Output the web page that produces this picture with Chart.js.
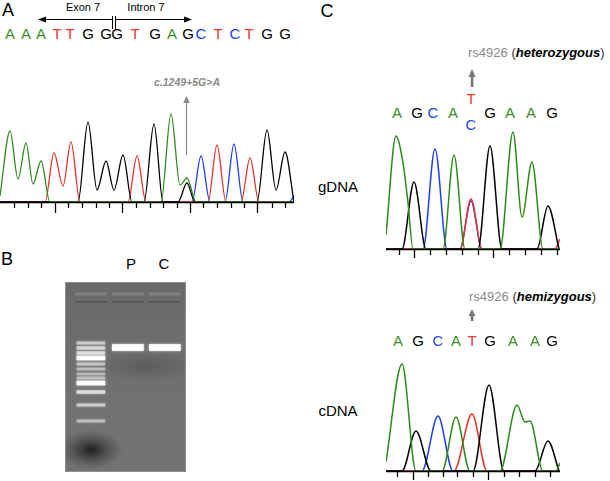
<!DOCTYPE html>
<html>
<head>
<meta charset="utf-8">
<script src="https://cdn.jsdelivr.net/npm/chart.js@4"></script>
<style>
body { margin: 0; background: #fff; font-family: "Liberation Sans", Arial, sans-serif; }
#fig { position: relative; width: 610px; height: 481px; overflow: hidden; background: #fff; }
#fig canvas, #fig svg, .t { position: absolute; }
.t { transform: translate(-50%, -50%); white-space: nowrap; line-height: 1; }
.l { transform: translate(0, -50%); }
.panel { font-size: 18px; }
.small { font-size: 11px; }
.seqA { font-size: 15px; }
.seqC { font-size: 15px; }
.lab { font-size: 15px; }
.mut { font-size: 10.5px; font-weight: bold; font-style: italic; color: #8a8a8a; }
.rs { font-size: 13px; color: #8a8a8a; }
.rs b { font-style: italic; color: #000; }
.rs span { color: #333; }
</style>
</head>
<body>
<div id="fig">
  <div class="t panel" style="left:8px;top:10px">A</div>
  <div class="t panel" style="left:7px;top:259px">B</div>
  <div class="t panel" style="left:327px;top:11px">C</div>

  <div class="t small" style="left:83px;top:7px">Exon 7</div>
  <div class="t small" style="left:146px;top:7px">Intron 7</div>
  <div class="t mut" style="left:187px;top:82px">c.1249+5G&gt;A</div>

  <div class="t lab" style="left:131px;top:263px">P</div>
  <div class="t lab" style="left:164px;top:263px">C</div>

  <div class="t l rs" style="left:468px;top:52px">rs4926 <span>(</span><b>heterozygous</b><span>)</span></div>
  <div class="t l rs" style="left:469px;top:296px">rs4926 <span>(</span><b>hemizygous</b><span>)</span></div>
  <div class="t lab" style="left:338px;top:186px">gDNA</div>
  <div class="t lab" style="left:338px;top:410px">cDNA</div>

  <svg width="610" height="481" style="left:0;top:0">
    <g stroke="#000" stroke-width="1" fill="none">
      <line x1="112" y1="19.5" x2="44" y2="19.5"/>
      <line x1="115" y1="19.5" x2="186" y2="19.5"/>
      <line x1="112.5" y1="16" x2="112.5" y2="29"/>
      <line x1="115.5" y1="16" x2="115.5" y2="29"/>
    </g>
    <polygon points="38,19.5 46,16.5 46,22.5" fill="#000"/>
    <polygon points="192,19.5 184,16.5 184,22.5" fill="#000"/>
    <line x1="186.5" y1="155" x2="186.5" y2="101" stroke="#888" stroke-width="1.2"/>
    <polygon points="186.5,96 183.2,103 189.8,103" fill="#888"/>
    <rect x="470.8" y="75" width="2.6" height="12" fill="#777"/>
    <polygon points="472,69 468.5,77 475.5,77" fill="#777"/>
    <rect x="470.8" y="315" width="2.6" height="6" fill="#777"/>
    <polygon points="472,309 468.5,316 475.5,316" fill="#777"/>
  </svg>

  <canvas id="chromA" width="294" height="104" style="left:0;top:110px"></canvas>
  <canvas id="chromG" width="174" height="131" style="left:386px;top:128px"></canvas>
  <canvas id="chromC" width="174" height="123" style="left:386px;top:358px"></canvas>
  <canvas id="gel" width="121" height="190" style="left:65px;top:282px"></canvas>
</div>

<script>
const GREEN = "#2f8a1c", RED = "#e8322a", BLUE = "#1f3ff0", BLACK = "#000";
const BASE_COLOR = { A: "#3a8f24", T: "#e83a30", C: "#2040f0", G: "#000" };

// sequence calls
const seqA = "AAATTGGGTGAGCTCTGG".split("");
const seqG = "AGCA GAAG".split("");
const seqC = "AGCATGAAG".split("");
// layout of the letters (px)
const seqAX = [10, 26, 41, 57, 70, 88, 106, 117, 135, 155, 172, 188, 201, 218, 235, 249, 267, 285];
const seqGX = [397, 417, 433, 453, 471, 490, 510, 531, 552];
const seqCX = [398, 418, 438, 456, 472, 490, 513, 535, 552];

// panel A trace: [scan position, signal]
const aGreen = [[0, 6], [10, 71], [18, 23], [26, 59], [33, 18], [41, 41], [50, 0], [161, 0], [171, 88], [180, 17], [187, 24], [196, 0], [294, 0]];
const aRed = [[0, 0], [45, 0], [54, 49], [63, 16], [71, 60], [80, 0], [128, 0], [137, 46], [146, 0], [208, 0], [217, 57], [226, 0], [241, 0], [250, 44], [259, 0], [294, 0]];
const aBlack = [[0, 0], [78, 0], [88, 80], [97, 12], [106, 41], [114, 12], [123, 47], [132, 0], [144, 0], [154, 78], [163, 0], [178, 0], [187, 19], [195, 0], [257, 0], [267, 72], [276, 12], [285, 50], [294, 0]];
const aBlue = [[0, 0], [192, 0], [201, 46], [210, 0], [225, 0], [234, 58], [243, 0], [289, 0], [294, 6]];
const aTicks = [14, 28, 41, 55, 68, 82, 96, 109, 122, 136, 150, 163, 177, 190, 203, 217, 231, 244, 257, 272, 285];
const aMajor = [55, 122, 190, 257];

// gDNA trace
const gGreen = [[386, 14], [396, 113], [403, 86], [408, 46], [413, 0], [443, 0], [454, 94], [465, 0], [500, 0], [513, 117], [522, 32], [532, 87], [543, 0], [560, 0]];
const gRed = [[386, 0], [460, 0], [471, 50], [482, 0], [555, 0], [560, 10]];
const gBlack = [[386, 0], [402, 0], [414, 67], [426, 0], [478, 0], [490, 103], [502, 0], [537, 0], [548, 43], [559, 0]];
const gBlue = [[386, 0], [423, 0], [435, 100], [447, 0], [460, 0], [471, 48], [482, 0], [560, 0]];
const gTicks = [399, 414, 430, 446, 462, 478, 493, 509, 525, 541, 557];
const gMajor = [414, 493];

// cDNA trace
const cGreen = [[386, 9], [402, 107], [416, 0], [442, 0], [456, 54], [470, 0], [500, 0], [517, 66], [525, 49], [530, 50], [543, 0], [556, 0], [560, 8]];
const cRed = [[386, 0], [454, 0], [472, 57], [487, 0], [560, 0]];
const cBlack = [[386, 0], [402, 0], [416, 40], [431, 0], [473, 0], [489, 86], [504, 0], [535, 0], [548, 30], [559, 0]];
const cBlue = [[386, 0], [422, 0], [438, 55], [453, 0], [560, 0]];
const cTicks = [397, 413, 428, 443, 457, 473, 488, 504, 519, 535, 550];
const cMajor = [413, 488];

// gel: lanes and band migration (px from top of gel), relative intensity
const lanes = ["M", "P", "C"];
const ladderPos = [61, 66, 71, 76, 82, 87, 92, 96, 101, 110, 123, 139];
const ladderInt = [0.45, 0.55, 0.6, 1, 0.4, 0.35, 0.3, 0.35, 1, 0.6, 0.45, 0.35];
const samplePos = [65.5, 65.5];
const sampleInt = [1, 1];

function putSeq(letters, xs, y, cls) {
  const fig = document.getElementById("fig");
  letters.forEach((b, i) => {
    if (b === " ") return;
    const d = document.createElement("div");
    d.className = "t " + cls;
    d.style.left = xs[i] + "px";
    d.style.top = y + "px";
    d.style.color = BASE_COLOR[b];
    d.textContent = b;
    fig.appendChild(d);
  });
}
putSeq(seqA, seqAX, 33, "seqA");
putSeq(seqG, seqGX, 112, "seqC");
putSeq(["T"], [seqGX[4]], 98, "seqC");
putSeq(["C"], [seqGX[4]], 124, "seqC");
putSeq(seqC, seqCX, 340, "seqC");

const axisTicks = {
  id: "axisTicks",
  afterDatasetsDraw(chart, args, opts) {
    const { ctx, chartArea: a, scales: { x } } = chart;
    ctx.save();
    ctx.strokeStyle = "#000";
    ctx.lineWidth = 1.6;
    ctx.beginPath();
    ctx.moveTo(a.left, a.bottom + 0.5);
    ctx.lineTo(a.right, a.bottom + 0.5);
    ctx.stroke();
    ctx.lineWidth = 1.3;
    opts.ticks.forEach((v) => {
      const px = Math.round(x.getPixelForValue(v)) + 0.5;
      ctx.beginPath();
      ctx.moveTo(px, a.bottom);
      ctx.lineTo(px, a.bottom + (opts.major.includes(v) ? opts.long : opts.short));
      ctx.stroke();
    });
    ctx.restore();
  },
};

function chromo(id, traces, xMin, xMax, yMax, pad, ticks, major, lw, long) {
  const cols = [GREEN, BLACK, RED, BLUE];
  return new Chart(document.getElementById(id), {
    type: "line",
    data: {
      datasets: traces.map((t, i) => ({
        data: t.map(([x, y]) => ({ x, y })),
        borderColor: cols[i],
        borderWidth: lw,
        pointRadius: 0,
        cubicInterpolationMode: "monotone",
        fill: false,
        clip: 3,
      })),
    },
    options: {
      responsive: false,
      animation: false,
      events: [],
      layout: { padding: { bottom: pad } },
      plugins: { legend: { display: false }, tooltip: { enabled: false }, axisTicks: { ticks, major, short: 6, long } },
      scales: {
        x: { type: "linear", min: xMin, max: xMax, display: false },
        y: { min: 0, max: yMax, display: false },
      },
    },
    plugins: [axisTicks],
  });
}

chromo("chromA", [aGreen, aBlack, aRed, aBlue], 0, 294, 92, 12, aTicks, aMajor, 1.3, 11);
chromo("chromG", [gGreen, gBlack, gRed, gBlue], 386, 560, 121, 10, gTicks, gMajor, 1.5, 9);
chromo("chromC", [cGreen, cBlack, cRed, cBlue], 386, 560, 113, 10, cTicks, cMajor, 1.5, 9);

const gelBg = {
  id: "gelBg",
  beforeDatasetsDraw(chart) {
    const { ctx, chartArea: a, scales: { x, y } } = chart;
    ctx.save();
    const g = ctx.createLinearGradient(0, a.top, 0, a.bottom);
    g.addColorStop(0, "#696969");
    g.addColorStop(0.5, "#707070");
    g.addColorStop(1, "#737373");
    ctx.fillStyle = g;
    ctx.fillRect(a.left, a.top, a.width, a.height);
    // wells
    lanes.forEach((_, i) => {
      const cx = x.getPixelForValue(i + 1);
      ctx.fillStyle = "rgba(150,150,150,0.45)";
      ctx.fillRect(cx - 16, y.getPixelForValue(12) - 1.5, 32, 3);
      ctx.fillStyle = "rgba(55,55,55,0.45)";
      ctx.fillRect(cx - 16, y.getPixelForValue(19), 32, 1.5);
    });
    // dark smear under the samples and front dye blob
    const blob = (cx, cy, rx, ry, col) => {
      ctx.save();
      ctx.translate(cx, cy);
      ctx.scale(rx / ry, 1);
      const r = ctx.createRadialGradient(0, 0, 0, 0, 0, ry);
      r.addColorStop(0, col);
      r.addColorStop(1, "rgba(60,60,60,0)");
      ctx.fillStyle = r;
      ctx.beginPath();
      ctx.arc(0, 0, ry, 0, Math.PI * 2);
      ctx.fill();
      ctx.restore();
    };
    blob(x.getPixelForValue(2.5), y.getPixelForValue(84), 55, 16, "rgba(45,45,45,0.3)");
    blob(x.getPixelForValue(1), y.getPixelForValue(168), 32, 20, "rgba(25,25,25,0.95)");
    ctx.restore();
    ctx.save();
    ctx.shadowColor = "rgba(255,255,255,0.7)";
    ctx.shadowBlur = 3;
  },
  afterDatasetsDraw(chart) {
    const { ctx, chartArea: a } = chart;
    ctx.restore();
    ctx.save();
    ctx.strokeStyle = "rgba(150,150,150,0.8)";
    ctx.lineWidth = 1;
    ctx.strokeRect(a.left + 0.5, a.top + 0.5, a.width - 1, a.height - 1);
    ctx.restore();
  },
};

new Chart(document.getElementById("gel"), {
  type: "bar",
  data: {
    datasets: [
      {
        data: ladderPos.map((p, i) => ({ x: 1, y: [p - 0.6 - 1.4 * ladderInt[i], p + 0.6 + 1.4 * ladderInt[i]] })),
        backgroundColor: ladderInt.map((v) => `rgba(255,255,255,${0.15 + 0.85 * v})`),
        barThickness: 28,
        grouped: false,
        borderSkipped: false,
      },
      {
        data: samplePos.map((p, i) => ({ x: i + 2, y: [p - 3, p + 3] })),
        backgroundColor: sampleInt.map((v) => `rgba(255,255,255,${v})`),
        barThickness: 31,
        grouped: false,
        borderSkipped: false,
      },
    ],
  },
  options: {
    responsive: false,
    animation: false,
    events: [],
    plugins: { legend: { display: false }, tooltip: { enabled: false } },
    scales: {
      x: { type: "linear", min: 0.3, max: 3.57, offset: false, display: false },
      y: { min: 0, max: 190, reverse: true, display: false },
    },
  },
  plugins: [gelBg],
});
</script>
</body>
</html>
